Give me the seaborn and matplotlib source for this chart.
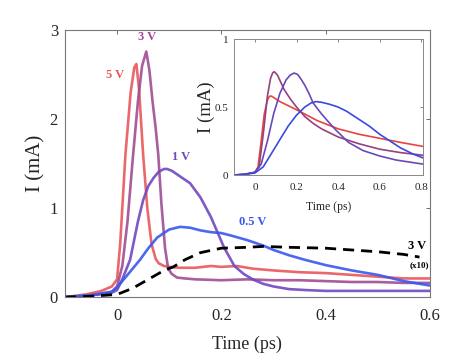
import numpy as np
import matplotlib
matplotlib.use("Agg")
import matplotlib.pyplot as plt
import seaborn as sns

sns.set_style("white")
plt.rcParams['font.family'] = ['Liberation Serif', 'DejaVu Serif']

# Main panel: current transients (ps, mA)
t_5v = [-0.1, -0.06, -0.03, -0.01, 0.0, 0.006, 0.016, 0.026, 0.033, 0.037, 0.042, 0.05, 0.058,
        0.066, 0.074, 0.08, 0.09, 0.1, 0.12, 0.15, 0.18, 0.2, 0.23, 0.26, 0.3, 0.35, 0.4, 0.45,
        0.5, 0.55, 0.6]
i_5v = [0.0, 0.03, 0.07, 0.12, 0.2, 0.6, 1.6, 2.3, 2.58, 2.62, 2.35, 1.6, 1.0,
        0.6, 0.43, 0.38, 0.35, 0.34, 0.33, 0.33, 0.35, 0.34, 0.35, 0.32, 0.3, 0.28, 0.27, 0.25,
        0.23, 0.21, 0.21]

t_3v = [-0.1, -0.05, -0.01, 0.0, 0.01, 0.02, 0.03, 0.04, 0.048, 0.056, 0.062, 0.068, 0.074,
        0.079, 0.085, 0.092, 0.098, 0.105, 0.115, 0.13, 0.15, 0.2, 0.25, 0.3, 0.35, 0.4, 0.45,
        0.5, 0.55, 0.6]
i_3v = [0.0, 0.02, 0.06, 0.12, 0.35, 0.85, 1.55, 2.2, 2.6, 2.76, 2.55, 2.2, 1.9,
        1.6, 1.05, 0.55, 0.32, 0.26, 0.22, 0.21, 0.2, 0.19, 0.2, 0.19, 0.19, 0.18, 0.17,
        0.17, 0.16, 0.16]

t_1v = [-0.1, -0.05, -0.01, 0.0, 0.01, 0.025, 0.04, 0.05, 0.06, 0.07, 0.08, 0.09, 0.096, 0.105,
        0.12, 0.14, 0.16, 0.18, 0.205, 0.225, 0.243, 0.26, 0.28, 0.3, 0.33, 0.36, 0.4, 0.45,
        0.5, 0.55, 0.6]
i_1v = [0.0, 0.02, 0.05, 0.08, 0.2, 0.42, 0.85, 1.09, 1.25, 1.34, 1.41, 1.44, 1.44, 1.42,
        1.36, 1.28, 1.12, 0.9, 0.56, 0.35, 0.26, 0.2, 0.15, 0.12, 0.09, 0.08, 0.07, 0.07,
        0.07, 0.07, 0.07]

t_05v = [-0.1, -0.05, -0.01, 0.0, 0.02, 0.044, 0.06, 0.077, 0.1, 0.121, 0.14, 0.16, 0.18, 0.2,
         0.22, 0.25, 0.28, 0.3, 0.33, 0.36, 0.4, 0.45, 0.5, 0.55, 0.6]
i_05v = [0.0, 0.02, 0.06, 0.11, 0.25, 0.42, 0.55, 0.67, 0.76, 0.79, 0.78, 0.75, 0.73, 0.72,
         0.69, 0.64, 0.58, 0.53, 0.47, 0.42, 0.36, 0.3, 0.25, 0.18, 0.13]

t_3v_x10 = [-0.1, -0.05, 0.0, 0.03, 0.06, 0.09, 0.108, 0.13, 0.16, 0.2, 0.25, 0.28, 0.33, 0.4,
            0.45, 0.5, 0.55, 0.58]
i_3v_x10 = [0.0, 0.01, 0.03, 0.1, 0.2, 0.3, 0.34, 0.42, 0.5, 0.55, 0.56, 0.57, 0.56, 0.55,
            0.53, 0.51, 0.48, 0.45]

# Inset: simulated transients
ti_5v = [-0.1, -0.05, 0.0, 0.015, 0.03, 0.045, 0.06, 0.066, 0.072, 0.08, 0.09, 0.12, 0.16, 0.2,
         0.25, 0.3, 0.35, 0.4, 0.5, 0.6, 0.7, 0.81]
ii_5v = [0.0, 0.005, 0.02, 0.06, 0.25, 0.45, 0.55, 0.57, 0.58, 0.58, 0.57, 0.54, 0.51, 0.48,
         0.44, 0.4, 0.37, 0.34, 0.3, 0.27, 0.24, 0.21]

ti_3v = [-0.1, -0.05, 0.0, 0.02, 0.04, 0.06, 0.075, 0.085, 0.092, 0.1, 0.11, 0.125, 0.14, 0.17,
         0.2, 0.24, 0.28, 0.32, 0.36, 0.4, 0.5, 0.6, 0.7, 0.81]
ii_3v = [0.0, 0.005, 0.02, 0.06, 0.3, 0.58, 0.71, 0.75, 0.76, 0.75, 0.73, 0.68, 0.63, 0.56,
         0.5, 0.43, 0.38, 0.34, 0.31, 0.28, 0.23, 0.19, 0.165, 0.145]

ti_1v = [-0.1, -0.05, 0.0, 0.03, 0.06, 0.09, 0.12, 0.15, 0.17, 0.188, 0.205, 0.22, 0.24, 0.26,
         0.28, 0.32, 0.36, 0.39, 0.45, 0.52, 0.6, 0.68, 0.81]
ii_1v = [0.0, 0.005, 0.02, 0.08, 0.25, 0.45, 0.6, 0.7, 0.735, 0.75, 0.74, 0.71, 0.66, 0.6,
         0.53, 0.45, 0.38, 0.33, 0.24, 0.18, 0.14, 0.11, 0.08]

ti_05v = [-0.1, -0.05, 0.0, 0.04, 0.08, 0.12, 0.16, 0.2, 0.24, 0.27, 0.294, 0.32, 0.36, 0.4,
          0.44, 0.5, 0.55, 0.6, 0.64, 0.7, 0.76, 0.81]
ii_05v = [0.0, 0.005, 0.015, 0.06, 0.16, 0.26, 0.36, 0.44, 0.5, 0.53, 0.54, 0.535, 0.52, 0.5,
          0.47, 0.41, 0.36, 0.3, 0.26, 0.2, 0.155, 0.125]

main_colors = {'5v': '#e8585c', '3v': '#a04c94', '1v': '#7048c0', '05v': '#3a58ee'}
inset_colors = {'5v': '#e8443f', '3v': '#96407e', '1v': '#6a48b8', '05v': '#3a4ae0'}

fig = plt.figure(figsize=(4.74, 3.55), dpi=100)
ax = fig.add_axes([0.137, 0.163, 0.77, 0.752])

for t, i, key in [(t_5v, i_5v, '5v'), (t_3v, i_3v, '3v'), (t_1v, i_1v, '1v'), (t_05v, i_05v, '05v')]:
    sns.lineplot(x=t, y=i, ax=ax, color=main_colors[key], linewidth=1.9, sort=False, alpha=0.9)
sns.lineplot(x=t_3v_x10, y=i_3v_x10, ax=ax, color='black', linewidth=2.0, sort=False,
             linestyle=(0, (4, 2.5)))

ax.set_xlim(-0.1, 0.6)
ax.set_ylim(0, 3)
ax.set_xticks([0, 0.2, 0.4, 0.6])
ax.set_xticklabels(['0', '0.2', '0.4', '0.6'])
ax.set_yticks([0, 1, 2, 3])
ax.set_xlabel('Time (ps)', fontsize=13, labelpad=8)
ax.set_ylabel('I (mA)', fontsize=15, labelpad=3)
ax.tick_params(direction='in', length=3, width=0.6, labelsize=12, top=True, right=True,
               color='#555555')
ax.tick_params(axis='x', pad=8)
ax.tick_params(axis='y', pad=5)
for s in ax.spines.values():
    s.set_color('#777777')
    s.set_linewidth(0.8)

lab = dict(fontsize=9, fontweight='bold', ha='center', va='center')
ax.text(0.058, 2.92, '3 V', color='#a04c94', **lab)
ax.text(-0.004, 2.5, '5 V', color='#e8585c', **lab)
ax.text(0.122, 1.57, '1 V', color='#7048c0', **lab)
ax.text(0.26, 0.84, '0.5 V', color='#3a58ee', **lab)
ax.text(0.575, 0.57, '3 V', color='black', **lab)
ax.text(0.58, 0.36, '(x10)', color='black', fontsize=6.5, fontweight='bold', ha='center', va='center')

# inset
axi = fig.add_axes([0.494, 0.507, 0.399, 0.383])
for t, i, key in [(ti_5v, ii_5v, '5v'), (ti_3v, ii_3v, '3v'), (ti_1v, ii_1v, '1v'), (ti_05v, ii_05v, '05v')]:
    sns.lineplot(x=t, y=i, ax=axi, color=inset_colors[key], linewidth=1.2, sort=False)
axi.set_xlim(-0.1, 0.81)
axi.set_ylim(0, 1)
axi.set_xticks([0, 0.2, 0.4, 0.6, 0.8])
axi.set_xticklabels(['0', '0.2', '0.4', '0.6', '0.8'])
axi.set_yticks([0, 0.5, 1])
axi.set_yticklabels(['0', '0.5', '1'])
axi.set_xlabel('Time (ps)', fontsize=8.5, labelpad=6)
axi.set_ylabel('I (mA)', fontsize=13.5, labelpad=0)
axi.tick_params(direction='in', length=2.5, width=0.5, labelsize=8, top=True, right=True,
                color='#555555')
axi.tick_params(axis='x', pad=6)
axi.tick_params(axis='y', pad=4)
for s in axi.spines.values():
    s.set_color('#888888')
    s.set_linewidth(0.7)

fig.savefig('out.png', dpi=100)
